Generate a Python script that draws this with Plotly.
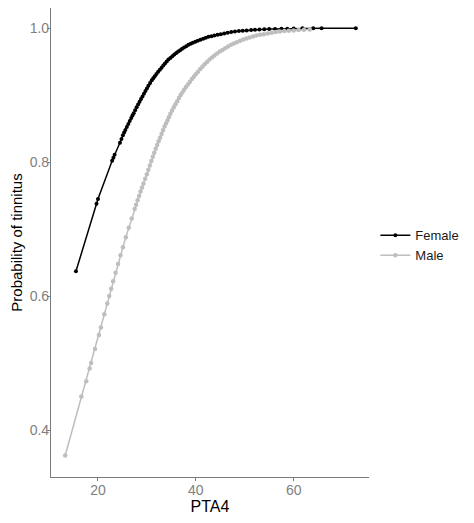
import plotly.graph_objects as go

female_x = [15.5, 19.7, 20.0, 22.9, 23.15, 23.4, 24.5, 24.8, 25.1, 25.35, 25.6, 25.9, 26.2, 26.5,
            26.8, 27.05, 27.3, 27.6, 27.9, 28.2, 28.5, 28.8, 29.1, 29.4, 29.7, 30.0, 30.3, 30.65,
            31.0, 31.3, 31.6, 31.95, 32.3, 32.65, 33.0, 33.35, 33.7, 34.05, 34.4, 34.8, 35.2,
            35.6, 36.0, 36.4, 36.8, 37.2, 37.6, 38.05, 38.5, 38.95, 39.4, 39.9, 40.4, 40.95,
            41.5, 42.05, 42.6, 43.2, 43.8, 44.45, 45.1, 45.8, 46.5, 47.25, 48.0, 48.8, 49.6,
            50.4, 51.3, 52.1, 53.0, 54.0, 55.0, 56.2, 57.5, 58.7, 60.0, 61.8, 64.0, 65.7, 72.7]
female_y = [0.637, 0.738, 0.745, 0.802, 0.8065, 0.811, 0.829, 0.8345, 0.840, 0.844, 0.848, 0.8525,
            0.857, 0.8615, 0.866, 0.8695, 0.873, 0.8775, 0.882, 0.886, 0.890, 0.894, 0.898, 0.902,
            0.906, 0.910, 0.914, 0.918, 0.922, 0.925, 0.928, 0.9315, 0.935, 0.938, 0.941, 0.944,
            0.947, 0.950, 0.953, 0.9555, 0.958, 0.9605, 0.963, 0.965, 0.967, 0.969, 0.971, 0.973,
            0.975, 0.9765, 0.978, 0.9795, 0.981, 0.9825, 0.984, 0.9855, 0.987, 0.988, 0.989,
            0.990, 0.991, 0.992, 0.993, 0.994, 0.995, 0.9955, 0.996, 0.9965, 0.997, 0.9975,
            0.998, 0.9982, 0.9985, 0.9988, 0.999, 0.9992, 0.9995, 0.9996, 0.9997, 0.9998, 0.9999]

male_x = [13.3, 16.6, 17.6, 18.3, 18.6, 19.4, 20.2, 20.6, 21.3, 21.9, 22.3, 22.7, 23.1, 23.6,
          24.1, 24.6, 25.1, 25.7, 26.3, 26.9, 27.5, 27.8, 28.1, 28.4, 28.7, 29.0, 29.3, 29.65,
          30.0, 30.3, 30.6, 30.9, 31.2, 31.5, 31.8, 32.1, 32.4, 32.7, 33.0, 33.3, 33.6, 33.9,
          34.2, 34.5, 34.8, 35.15, 35.5, 35.85, 36.2, 36.55, 36.9, 37.25, 37.6, 38.0, 38.4, 38.8,
          39.2, 39.6, 40.0, 40.45, 40.9, 41.35, 41.8, 42.3, 42.8, 43.3, 43.8, 44.35, 44.9, 45.45,
          46.0, 46.6, 47.2, 47.8, 48.4, 49.05, 49.7, 50.35, 51.0, 51.7, 52.4, 53.15, 53.9, 54.7,
          55.5, 56.35, 57.2, 58.1, 59.0, 60.0, 61.0, 62.1, 63.3]
male_y = [0.362, 0.450, 0.473, 0.492, 0.500, 0.521, 0.542, 0.553, 0.573, 0.589, 0.600, 0.611,
          0.622, 0.635, 0.648, 0.661, 0.673, 0.688, 0.702, 0.716, 0.730, 0.7365, 0.743, 0.7495,
          0.756, 0.762, 0.768, 0.775, 0.782, 0.7885, 0.795, 0.8015, 0.808, 0.814, 0.820, 0.8255,
          0.831, 0.8365, 0.842, 0.8475, 0.853, 0.8575, 0.862, 0.867, 0.872, 0.877, 0.882, 0.8865,
          0.891, 0.8955, 0.900, 0.904, 0.908, 0.912, 0.916, 0.920, 0.924, 0.9275, 0.931, 0.935,
          0.939, 0.9425, 0.946, 0.9495, 0.953, 0.956, 0.959, 0.962, 0.965, 0.9675, 0.970, 0.9725,
          0.975, 0.977, 0.979, 0.981, 0.983, 0.9845, 0.986, 0.9875, 0.989, 0.990, 0.991, 0.992,
          0.993, 0.994, 0.995, 0.9955, 0.996, 0.9965, 0.997, 0.9975, 0.998]

x_ticks = [20, 40, 60]
y_ticks = [0.4, 0.6, 0.8, 1.0]
y_tick_labels = ["0.4", "0.6", "0.8", "1.0"]

FONT = "Arial, Liberation Sans, sans-serif"

fig = go.Figure()
fig.add_trace(go.Scatter(x=female_x, y=female_y, mode="lines+markers", name="Female",
                         line=dict(color="black", width=1.5),
                         marker=dict(color="black", size=4)))
fig.add_trace(go.Scatter(x=male_x, y=male_y, mode="lines+markers", name="Male",
                         line=dict(color="#BEBEBE", width=1.5),
                         marker=dict(color="#BEBEBE", size=4.5)))

axis_common = dict(showgrid=False, zeroline=False, showline=True, linecolor="#7a7a7a",
                   linewidth=1.2, ticks="outside", ticklen=3, tickcolor="#7a7a7a",
                   automargin=False,
                   tickfont=dict(family=FONT, size=14, color="#808080"))

# the page body adds an 8px offset, margins compensate for it
fig.update_layout(
    width=474, height=523,
    margin=dict(l=43, r=113, t=0, b=54),
    paper_bgcolor="white", plot_bgcolor="white",
    font=dict(family=FONT),
    xaxis=dict(range=[10.4, 75.4], tickvals=x_ticks, ticklabelstandoff=-3,
               title=dict(text="PTA4", font=dict(family=FONT, size=16, color="black"), standoff=2),
               **axis_common),
    yaxis=dict(range=[0.330, 1.030], tickvals=y_ticks, ticktext=y_tick_labels,
               ticklabelstandoff=-5,
               title=dict(text="Probability of tinnitus", font=dict(family=FONT, size=15, color="black"), standoff=7),
               **axis_common),
    legend=dict(x=1.02, xanchor="left", y=0.494, yanchor="middle",
                font=dict(family=FONT, size=13, color="#1a1a1a"),
                bgcolor="rgba(0,0,0,0)", tracegroupgap=0),
    showlegend=True,
)

fig.write_html("out.html")
